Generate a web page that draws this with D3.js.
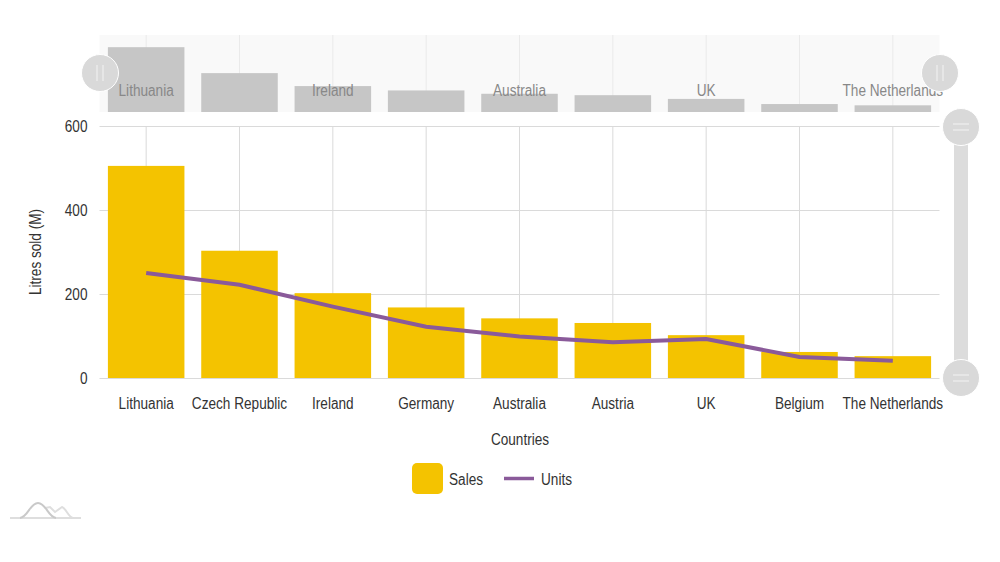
<!DOCTYPE html>
<html>
<head>
<meta charset="utf-8">
<style>
html, body { margin: 0; background: #fff; }
svg { display: block; }
text { font-family: "Liberation Sans", Arial, sans-serif; font-size: 16px; fill: #333; }
.grid line { stroke: #dadada; }
.grid path { display: none; }
.axis path, .axis line { display: none; }
</style>
</head>
<body>
<script src="https://cdnjs.cloudflare.com/ajax/libs/d3/7.8.5/d3.min.js"></script>
<script>
const countries = ["Lithuania", "Czech Republic", "Ireland", "Germany", "Australia", "Austria", "UK", "Belgium", "The Netherlands"];
const sales = [505, 303, 202, 168, 142, 131, 102, 62, 52];
const units = [250, 222, 170, 122, 99, 85, 93, 50, 41];
const yTicks = [0, 200, 400, 600];

const width = 1000, height = 562;
const left = 99.5, right = 939.5;
const top_ = 126, bottom = 378;
const scrollTop = 35, scrollBottom = 112;

const svg = d3.select("body").append("svg")
    .attr("width", width)
    .attr("height", height);

const x = d3.scaleBand()
    .domain(countries)
    .range([left, right])
    .paddingInner(0.18)
    .paddingOuter(0.09);
const center = d => x(d) + x.bandwidth() / 2;

const y = d3.scaleLinear().domain([0, 600]).range([bottom, top_]);
const yMini = d3.scaleLinear().domain([0, 600]).range([scrollBottom, scrollTop]);

// scrollbar preview
svg.append("rect")
    .attr("x", left).attr("y", scrollTop)
    .attr("width", right - left).attr("height", scrollBottom - scrollTop)
    .attr("fill", "#f9f9f9");

svg.append("g")
    .selectAll("line")
    .data(countries)
    .join("line")
      .attr("x1", center).attr("x2", center)
      .attr("y1", scrollTop).attr("y2", scrollBottom)
      .attr("stroke", "#eaeaea");

svg.append("g")
    .attr("fill", "#c6c6c6")
  .selectAll("rect")
  .data(countries)
  .join("rect")
    .attr("x", d => x(d))
    .attr("width", x.bandwidth())
    .attr("y", (d, i) => yMini(sales[i]))
    .attr("height", (d, i) => yMini(0) - yMini(sales[i]));

svg.append("g")
  .selectAll("text")
  .data(countries.filter((d, i) => i % 2 === 0))
  .join("text")
    .attr("x", center)
    .attr("y", 96)
    .attr("text-anchor", "middle")
    .style("fill", "#888")
    .text(d => d);

// main grid
svg.append("g")
    .attr("class", "grid")
    .attr("transform", `translate(${left},0)`)
    .call(d3.axisLeft(y).tickValues(yTicks).tickSize(-(right - left)).tickFormat(""));

svg.append("g")
    .attr("class", "grid")
    .attr("transform", `translate(0,${bottom})`)
    .call(d3.axisBottom(x).tickSize(-(bottom - top_)).tickFormat(""));

// bars and line
svg.append("g")
    .attr("fill", "#f4c300")
  .selectAll("rect")
  .data(countries)
  .join("rect")
    .attr("x", d => x(d))
    .attr("width", x.bandwidth())
    .attr("y", (d, i) => y(sales[i]))
    .attr("height", (d, i) => y(0) - y(sales[i]));

svg.append("path")
    .datum(countries)
    .attr("fill", "none")
    .attr("stroke", "#8a5a9a")
    .attr("stroke-width", 4)
    .attr("d", d3.line().x(center).y((d, i) => y(units[i])));

// axes
svg.append("g")
    .attr("class", "axis")
    .attr("transform", `translate(${left},0)`)
    .call(d3.axisLeft(y).tickValues(yTicks).tickPadding(6))
    .call(g => g.selectAll("text").style("font-size", "16px").attr("dy", "0.37em"));

svg.append("g")
    .attr("class", "axis")
    .attr("transform", `translate(0,${bottom})`)
    .call(d3.axisBottom(x).tickPadding(14))
    .call(g => g.selectAll("text").style("font-size", "16px"));

svg.append("text")
    .attr("transform", "translate(41,252) rotate(-90)")
    .attr("text-anchor", "middle")
    .text("Litres sold (M)");

svg.append("text")
    .attr("x", 520).attr("y", 445)
    .attr("text-anchor", "middle")
    .text("Countries");

// legend
svg.append("rect")
    .attr("x", 412).attr("y", 463)
    .attr("width", 31).attr("height", 31).attr("rx", 5)
    .attr("fill", "#f4c300");
svg.append("text").attr("x", 449).attr("y", 485).text("Sales");
svg.append("line")
    .attr("x1", 504).attr("x2", 534)
    .attr("y1", 478.5).attr("y2", 478.5)
    .attr("stroke", "#8a5a9a").attr("stroke-width", 3.5);
svg.append("text").attr("x", 541).attr("y", 485).text("Units");

// vertical scrollbar track
svg.append("rect")
    .attr("x", 954).attr("y", top_)
    .attr("width", 14).attr("height", bottom - top_)
    .attr("fill", "#dcdcdc");

// grips
const grip = (cx, cy, vertical) => {
  const g = svg.append("g").attr("transform", `translate(${cx},${cy})`);
  g.append("circle").attr("r", 18.5).attr("fill", "#d9d9d9").attr("stroke", "#fff").attr("stroke-width", 1);
  [-3, 3].forEach(o => {
    g.append("line")
      .attr("x1", vertical ? o : -8).attr("x2", vertical ? o : 8)
      .attr("y1", vertical ? -8 : o).attr("y2", vertical ? 8 : o)
      .attr("stroke", "#efefef").attr("stroke-width", 1.2);
  });
};
grip(100, 73, true);
grip(940, 73, true);
grip(961, 127, false);
grip(961, 378, false);

// logo
const logo = svg.append("g").attr("fill", "none").attr("stroke-width", 2);
logo.append("path")
    .attr("d", "M10 518 H81")
    .attr("stroke", "#dedede");
logo.append("path")
    .attr("d", "M45 508 L50 507 L55 512 L62 507 C66 508 68 517 73 518")
    .attr("stroke", "#dedede");
logo.append("path")
    .attr("d", "M20 518 C28 517 30 503 38 503 C46 503 48 517 56 518")
    .attr("stroke", "#c9c9c9");

// the reference font is a narrow grotesque, squeeze Liberation Sans to match
svg.selectAll("text").each(function() {
  d3.select(this)
      .attr("textLength", this.getComputedTextLength() * 0.85)
      .attr("lengthAdjust", "spacingAndGlyphs");
});
</script>
</body>
</html>
